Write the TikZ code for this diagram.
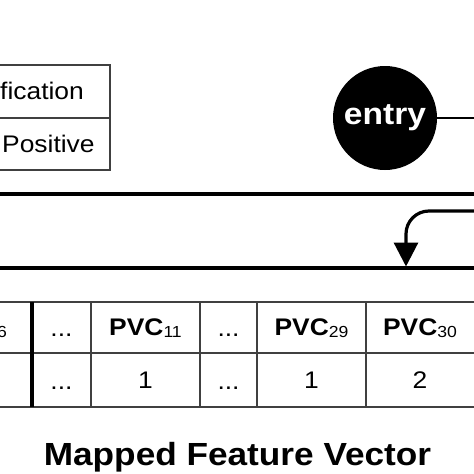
\documentclass[tikz,border=0pt]{standalone}
\usepackage{fontspec}
\setmainfont{Liberation Sans}[FakeStretch=1.1]
\usetikzlibrary{arrows.meta}

\begin{document}
\begin{tikzpicture}[x=1pt,y=-1pt,
  cell/.style={inner sep=0pt,anchor=base,font=\fontsize{24}{28}\selectfont},
  bigline/.style={line width=3.2pt},
  gridline/.style={line width=1.3pt,black!75}]
\useasboundingbox (0,0) rectangle (474,474);
\clip (0,0) rectangle (474,474);

% Result box
\draw[gridline] (-10,65) -| (110,170) -- (-10,170);
\draw[gridline] (-10,118) -- (110,118);
\node[cell,anchor=base west] (cls) at (0,99) {fication};
\node[cell,anchor=base west] (pos) at (2,152) {Positive};

% Entry
\node[circle,fill=black,minimum size=104pt,inner sep=0pt,text=white,
  font=\bfseries\fontsize{30.5}{36}\selectfont] (entry) at (385,118) {entry};
\coordinate (entryout) at (480,118);
\draw[line width=1.5pt] (entry) -- (entryout);

% Bus lines
\coordinate (busAL) at (-5,194);
\coordinate (busAR) at (480,194);
\coordinate (busBL) at (-5,268);
\coordinate (busBR) at (480,268);
\draw[bigline] (busAL) -- (busAR);
\draw[bigline] (busBL) -- (busBR);

% Loop arrow
\coordinate (loopin) at (480,211);
\coordinate (loophit) at (406,266.5);
\draw[bigline,rounded corners=23pt,-{Triangle[width=24pt,length=24pt]}] (loopin) -| (loophit);

% Table grid
\foreach \y in {302,353,407}
  \draw[gridline] (-5,\y) -- (480,\y);
\foreach \x in {91,200,257,366}
  \draw[gridline] (\x,302) -- (\x,407);
\draw[bigline] (32,302) -- (32,407);

% Table cells
\node[cell,anchor=base east,font=\fontsize{16}{18}\selectfont] (pvcsix) at (7,337) {6};
\foreach \x/\n in {61.5/dotsa,228.5/dotsb}
{
  \node[cell] (\n top) at (\x,336) {...};
  \node[cell] (\n bot) at (\x,389) {...};
}
\foreach \x/\s/\n in {145.5/11/pvca,311.5/29/pvcb,420/30/pvcc}
  \node[cell] (\n) at (\x,335) {\textbf{PVC}{\fontsize{16}{18}\selectfont\raisebox{-2pt}{\s}}};
\foreach \x/\v/\n in {145.5/1/vala,311.5/1/valb,420/2/valc}
  \node[cell] (\n) at (\x,388.5) {\v};

% Caption
\node[anchor=base,font=\bfseries\fontsize{32}{38}\selectfont] (title) at (237.5,465.5) {Mapped Feature Vector};
\end{tikzpicture}
\end{document}
